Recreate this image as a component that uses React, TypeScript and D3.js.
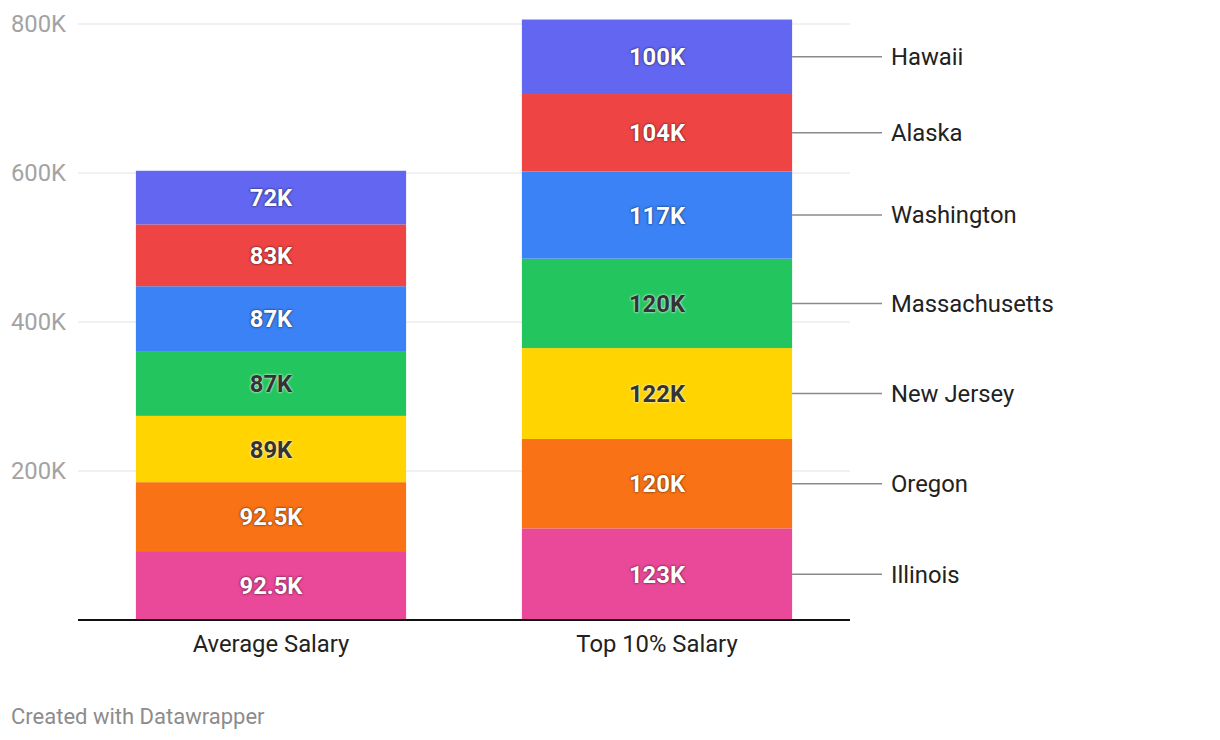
import React, { useEffect, useRef } from 'react';
import * as d3 from 'd3';

// stacked from bottom to top
const states = ['Illinois', 'Oregon', 'New Jersey', 'Massachusetts', 'Washington', 'Alaska', 'Hawaii'];
const stateColors = ['#ea4899', '#f97316', '#ffd400', '#22c55e', '#3b82f6', '#ef4444', '#6366f1'];
const darkText = ['New Jersey', 'Massachusetts'];

const categories = ['Average Salary', 'Top 10% Salary'];
const averageSalary = [92.5, 92.5, 89, 87, 87, 83, 72];
const top10Salary = [123, 120, 122, 120, 117, 104, 100];

const yTicks = [200, 400, 600, 800];

const App: React.FC = () => {
  const svgRef = useRef<SVGSVGElement>(null);

  useEffect(() => {
    if (!svgRef.current) return;
    document.body.style.margin = '0';

    const svg = d3.select(svgRef.current);
    svg.selectAll('*').remove();

    const font = 'Roboto, sans-serif';
    const fs = 23.8;
    const x = d3.scaleBand<string>().domain(categories).range([78, 850]).paddingInner(0.3).paddingOuter(0.15);
    const y = d3.scaleLinear().domain([0, 800]).range([620, 24]);

    // gridlines + tick labels
    const grid = svg.append('g');
    yTicks.forEach(t => {
      grid.append('line')
        .attr('x1', 78).attr('x2', 850)
        .attr('y1', y(t)).attr('y2', y(t))
        .attr('stroke', '#e2e2e2').attr('stroke-width', 1);
      grid.append('text')
        .attr('x', 66).attr('y', y(t)).attr('dy', '0.35em')
        .attr('text-anchor', 'end')
        .attr('font-family', font).attr('font-size', fs)
        .attr('fill', '#a3a3a3')
        .text(`${t}K`);
    });

    const rows = states.map((s, i) => ({ state: s, 'Average Salary': averageSalary[i], 'Top 10% Salary': top10Salary[i] }));
    const series = categories.map(cat => {
      const stack = d3.stack<any>().keys(states);
      // one row per category, keyed by state
      const row: any = {};
      rows.forEach(r => { row[r.state] = r[cat as 'Average Salary']; });
      return { cat, layers: stack([row]) };
    });

    const fmt = (v: number) => `${Number.isInteger(v) ? v : v.toFixed(1)}K`;

    const bars = svg.append('g');
    series.forEach(({ cat, layers }) => {
      layers.forEach((layer, i) => {
        const [y0, y1] = layer[0];
        bars.append('rect')
          .attr('x', x(cat)!)
          .attr('width', x.bandwidth())
          .attr('y', y(y1))
          .attr('height', y(y0) - y(y1))
          .attr('fill', stateColors[i]);
      });
    });

    const labels = svg.append('g');
    series.forEach(({ cat, layers }) => {
      layers.forEach((layer, i) => {
        const [y0, y1] = layer[0];
        const dark = darkText.includes(states[i]);
        labels.append('text')
          .attr('x', x(cat)! + x.bandwidth() / 2)
          .attr('y', y((y0 + y1) / 2)).attr('dy', '0.36em')
          .attr('text-anchor', 'middle')
          .attr('font-family', font).attr('font-size', fs).attr('font-weight', 700)
          .attr('fill', dark ? '#333333' : '#ffffff')
          .style('text-shadow', dark
            ? '0 0 2px rgba(255,255,255,0.9), 0 0 3px rgba(255,255,255,0.6)'
            : '0 0 2px rgba(0,0,0,0.55), 0 0 3px rgba(0,0,0,0.35)')
          .text(fmt(y1 - y0));
      });
    });

    // state labels next to the top-10% bar
    const last = series[1];
    const xEnd = x(last.cat)! + x.bandwidth();
    const legend = svg.append('g');
    last.layers.forEach((layer, i) => {
      const [y0, y1] = layer[0];
      const ym = y((y0 + y1) / 2);
      legend.append('line')
        .attr('x1', xEnd).attr('x2', 882)
        .attr('y1', ym).attr('y2', ym)
        .attr('stroke', '#8a8a8a').attr('stroke-width', 1.5);
      legend.append('text')
        .attr('x', 891).attr('y', ym).attr('dy', '0.35em')
        .attr('font-family', font).attr('font-size', fs)
        .attr('fill', '#222')
        .text(states[i]);
    });

    // baseline
    svg.append('line')
      .attr('x1', 78).attr('x2', 850)
      .attr('y1', y(0)).attr('y2', y(0))
      .attr('stroke', '#111').attr('stroke-width', 2);

    categories.forEach(cat => {
      svg.append('text')
        .attr('x', x(cat)! + x.bandwidth() / 2)
        .attr('y', 652)
        .attr('text-anchor', 'middle')
        .attr('font-family', font).attr('font-size', fs)
        .attr('fill', '#222')
        .text(cat);
    });

    svg.append('text')
      .attr('x', 11).attr('y', 724)
      .attr('font-family', font).attr('font-size', 22)
      .attr('fill', '#8c8c8c')
      .text('Created with Datawrapper');
  }, []);

  return <svg ref={svgRef} width={1220} height={740} style={{ display: 'block', background: '#fff' }} />;
};

export default App;
